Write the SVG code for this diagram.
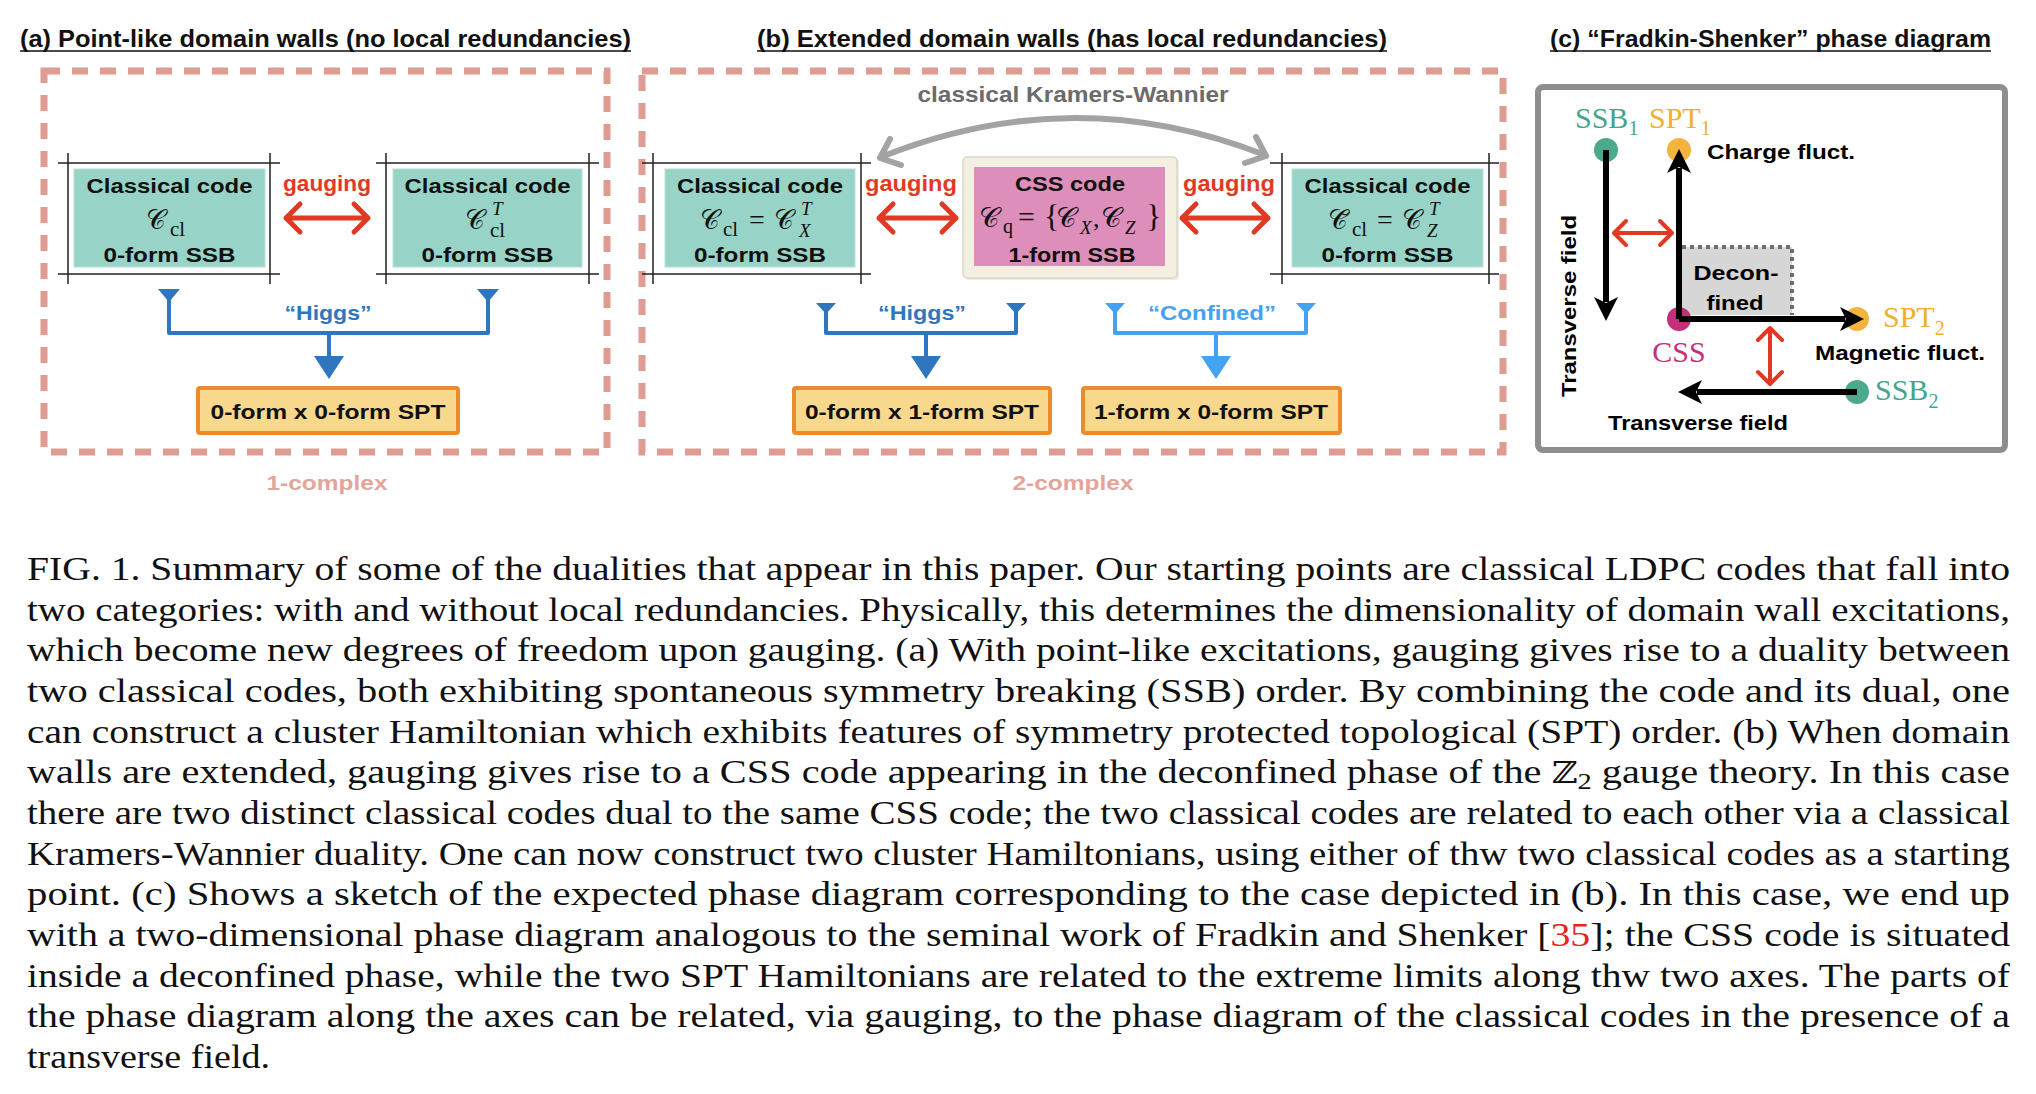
<svg xmlns="http://www.w3.org/2000/svg" width="2036" height="1094" viewBox="0 0 2036 1094">
<style>
.title{font-family:"Liberation Sans",Arial,sans-serif;font-weight:bold;font-size:24px;fill:#111}
.uline{stroke:#111;stroke-width:1.6}
.lbl{font-family:"Liberation Sans",Arial,sans-serif;font-weight:bold;font-size:21px;fill:#111;text-anchor:middle}
.math{font-family:"DejaVu Serif","Liberation Serif",serif;fill:#111}
.rom{font-family:"Liberation Serif","Times New Roman",serif;fill:#111}
.it{font-family:"Liberation Serif","Times New Roman",serif;font-style:italic;fill:#111}
.dash{fill:none;stroke:#DE9C92;stroke-width:7;stroke-dasharray:16 12}
.cplx{font-family:"Liberation Sans",Arial,sans-serif;font-weight:bold;font-size:21px;fill:#E3A49A;text-anchor:middle}
.sk{stroke:#222;stroke-width:1.5;fill:none}
.teal{fill:#97D4C7;stroke:#B9E2D8;stroke-width:1}
.spt{fill:#F8D88C;stroke:#EC8A2E;stroke-width:4}
.red{fill:none;stroke:#E03A25;stroke-width:5;stroke-linecap:round;stroke-linejoin:round}
.red2{fill:none;stroke:#E03A25;stroke-width:4;stroke-linecap:round;stroke-linejoin:round}
.gauge{font-family:"Liberation Sans",Arial,sans-serif;font-weight:bold;font-size:22px;fill:#E03A25;text-anchor:middle}
.b1{fill:none;stroke:#2F76BE;stroke-width:4;stroke-linejoin:round}
.b1f{fill:#2F76BE}
.b1t{font-family:"Liberation Sans",Arial,sans-serif;font-weight:bold;font-size:21px;fill:#2F76BE;text-anchor:middle}
.b2{fill:none;stroke:#43A2F2;stroke-width:4;stroke-linejoin:round}
.b2f{fill:#43A2F2}
.b2t{font-family:"Liberation Sans",Arial,sans-serif;font-weight:bold;font-size:21px;fill:#43A2F2;text-anchor:middle}
.gray{fill:none;stroke:#A3A3A3;stroke-width:6;stroke-linecap:round;stroke-linejoin:round}
.kw{font-family:"Liberation Sans",Arial,sans-serif;font-weight:bold;font-size:22px;fill:#6B6B6B;text-anchor:middle}
.blk{fill:none;stroke:#000;stroke-width:6}
.blkf{fill:#000}
.ct{font-family:"Liberation Sans",Arial,sans-serif;font-weight:bold;font-size:21px;fill:#000}
.ser{font-family:"Liberation Serif","Times New Roman",serif;font-size:30px}
.cap{font-family:"Liberation Serif","Times New Roman",serif;font-size:34px;fill:#111}
</style>

<rect x="0" y="0" width="2036" height="1094" fill="#fff"/>

<!-- Titles -->
<g id="title-a">
<text class="title" x="20" y="47" textLength="611" lengthAdjust="spacingAndGlyphs">(a) Point-like domain walls (no local redundancies)</text>
<line class="uline" x1="20" y1="51" x2="631" y2="51"/>
</g>
<g id="title-b">
<text class="title" x="757" y="47" textLength="630" lengthAdjust="spacingAndGlyphs">(b) Extended domain walls (has local redundancies)</text>
<line class="uline" x1="757" y1="51" x2="1387" y2="51"/>
</g>
<g id="title-c">
<text class="title" x="1550" y="47" textLength="441" lengthAdjust="spacingAndGlyphs">(c) “Fradkin-Shenker” phase diagram</text>
<line class="uline" x1="1550" y1="51" x2="1991" y2="51"/>
</g>

<!-- Panel (a) -->
<g id="complex-a">
<rect class="dash" x="44" y="71" width="563" height="381"/>
<text class="cplx" x="327" y="490" textLength="121" lengthAdjust="spacingAndGlyphs">1-complex</text>
</g>

<g id="a-code1">
<path class="sk" d="M58 163 H280 M58 274 H280 M68 153 V284 M270 153 V284"/>
<rect class="teal" x="74" y="169" width="191" height="98"/>
<text class="lbl" x="169.5" y="193" textLength="166" lengthAdjust="spacingAndGlyphs">Classical code</text>
<text class="math" x="146" y="229" font-size="27">𝒞</text>
<text class="rom" x="170" y="236" font-size="21">cl</text>
<text class="lbl" x="169.5" y="262" textLength="132" lengthAdjust="spacingAndGlyphs">0-form SSB</text>
</g>

<g id="a-code2">
<path class="sk" d="M376 163 H599 M376 274 H599 M386 153 V284 M589 153 V284"/>
<rect class="teal" x="393" y="169" width="189" height="98"/>
<text class="lbl" x="487.5" y="193" textLength="166" lengthAdjust="spacingAndGlyphs">Classical code</text>
<text class="math" x="465" y="229" font-size="27">𝒞</text>
<text class="it" x="492" y="215" font-size="19">T</text>
<text class="rom" x="490" y="237" font-size="21">cl</text>
<text class="lbl" x="487.5" y="262" textLength="132" lengthAdjust="spacingAndGlyphs">0-form SSB</text>
</g>

<g id="a-spt">
<rect class="spt" x="198" y="388" width="260" height="45" rx="2"/>
<text class="lbl" x="328" y="419" textLength="235" lengthAdjust="spacingAndGlyphs">0-form x 0-form SPT</text>
</g>

<!-- Panel (b) -->
<g id="complex-b">
<rect class="dash" x="642" y="71" width="861" height="381"/>
<text class="cplx" x="1073" y="490" textLength="121" lengthAdjust="spacingAndGlyphs">2-complex</text>
</g>

<g id="b-code1">
<path class="sk" d="M642 163 H871 M642 274 H871 M653 153 V284 M861 153 V284"/>
<rect class="teal" x="665" y="169" width="190" height="98"/>
<text class="lbl" x="760" y="193" textLength="166" lengthAdjust="spacingAndGlyphs">Classical code</text>
<text class="math" x="700" y="229" font-size="27">𝒞</text>
<text class="rom" x="723" y="236" font-size="21">cl</text>
<text class="rom" x="749" y="229" font-size="28">=</text>
<text class="math" x="774" y="229" font-size="27">𝒞</text>
<text class="it" x="801" y="215" font-size="19">T</text>
<text class="it" x="799" y="237" font-size="19">X</text>
<text class="lbl" x="760" y="262" textLength="132" lengthAdjust="spacingAndGlyphs">0-form SSB</text>
</g>

<g id="b-css">
<rect x="965" y="159" width="214" height="121" rx="4" fill="#E2DED0" opacity="0.6"/>
<rect x="963" y="157" width="214" height="121" rx="4" fill="#F4F0E1" stroke="#DCD7C6" stroke-width="1.5"/>
<rect x="974" y="167" width="191" height="99" fill="#DD8EBA"/>
<text class="lbl" x="1070" y="191" textLength="110" lengthAdjust="spacingAndGlyphs">CSS code</text>
<text class="math" x="979" y="227" font-size="28">𝒞</text>
<text class="rom" x="1003" y="233" font-size="20">q</text>
<text class="rom" x="1018" y="227" font-size="30">=</text>
<text class="rom" x="1044" y="227" font-size="32">{</text>
<text class="math" x="1056" y="227" font-size="28">𝒞</text>
<text class="it" x="1080" y="234" font-size="19">X</text>
<text class="rom" x="1093" y="227" font-size="26">,</text>
<text class="math" x="1101" y="227" font-size="28">𝒞</text>
<text class="it" x="1125" y="234" font-size="19">Z</text>
<text class="rom" x="1146" y="227" font-size="32">}</text>
<text class="lbl" x="1072" y="262" textLength="127" lengthAdjust="spacingAndGlyphs">1-form SSB</text>
</g>

<g id="b-code2">
<path class="sk" d="M1270 163 H1499 M1270 274 H1499 M1282 153 V284 M1489 153 V284"/>
<rect class="teal" x="1292" y="169" width="191" height="98"/>
<text class="lbl" x="1387.5" y="193" textLength="166" lengthAdjust="spacingAndGlyphs">Classical code</text>
<text class="math" x="1328" y="229" font-size="27">𝒞&#x303;</text>
<text class="rom" x="1352" y="236" font-size="21">cl</text>
<text class="rom" x="1377" y="229" font-size="28">=</text>
<text class="math" x="1402" y="229" font-size="27">𝒞</text>
<text class="it" x="1429" y="215" font-size="19">T</text>
<text class="it" x="1427" y="237" font-size="19">Z</text>
<text class="lbl" x="1387.5" y="262" textLength="132" lengthAdjust="spacingAndGlyphs">0-form SSB</text>
</g>

<g id="b-spt1">
<rect class="spt" x="794" y="388" width="256" height="45" rx="2"/>
<text class="lbl" x="922" y="419" textLength="234" lengthAdjust="spacingAndGlyphs">0-form x 1-form SPT</text>
</g>
<g id="b-spt2">
<rect class="spt" x="1083" y="388" width="257" height="45" rx="2"/>
<text class="lbl" x="1211" y="419" textLength="234" lengthAdjust="spacingAndGlyphs">1-form x 0-form SPT</text>
</g>

<!-- Panel (c) -->
<g id="c-frame">
<rect x="1538" y="87" width="467" height="363" rx="5" fill="#fff" stroke="#8E8E8E" stroke-width="6"/>
</g>
<g id="c-deconfined">
<rect x="1682" y="247" width="110" height="68" fill="#D6D6D6"/>
<path d="M1682 247 H1792 V315" fill="none" stroke="#6E6E6E" stroke-width="4" stroke-dasharray="4 4"/>
<text class="ct" x="1736" y="280" text-anchor="middle" textLength="85" lengthAdjust="spacingAndGlyphs">Decon-</text>
<text class="ct" x="1735" y="310" text-anchor="middle" textLength="57" lengthAdjust="spacingAndGlyphs">fined</text>
</g>
<g id="c-ssb1">
<circle cx="1606" cy="150" r="12" fill="#4DA98E"/>
<text class="ser" x="1575" y="128" fill="#45A58C">SSB<tspan font-size="20" dy="7">1</tspan></text>
</g>
<g id="c-spt1">
<circle cx="1679" cy="150" r="12" fill="#F2B43E"/>
<text class="ser" x="1649" y="128" fill="#F0B030">SPT<tspan font-size="20" dy="7">1</tspan></text>
<text class="ct" x="1707" y="159" textLength="148" lengthAdjust="spacingAndGlyphs">Charge fluct.</text>
</g>
<g id="c-css">
<circle cx="1679" cy="319" r="12" fill="#C62F78"/>
<text class="ser" x="1679" y="362" fill="#C62F78" text-anchor="middle">CSS</text>
</g>
<g id="c-spt2">
<circle cx="1857" cy="319" r="12" fill="#F2B43E"/>
<text class="ser" x="1883" y="327" fill="#F0B030">SPT<tspan font-size="20" dy="8">2</tspan></text>
<text class="ct" x="1815" y="360" textLength="170" lengthAdjust="spacingAndGlyphs">Magnetic fluct.</text>
</g>
<g id="c-ssb2">
<circle cx="1857" cy="392" r="12" fill="#4DA98E"/>
<text class="ser" x="1875" y="400" fill="#45A58C">SSB<tspan font-size="20" dy="8">2</tspan></text>
</g>
<g id="c-axes-labels">
<text class="ct" x="1608" y="430" textLength="180" lengthAdjust="spacingAndGlyphs">Transverse field</text>
<text class="ct" transform="translate(1576 306) rotate(-90)" x="0" y="0" text-anchor="middle" textLength="182" lengthAdjust="spacingAndGlyphs">Transverse field</text>
</g>

<!-- Connectors -->
<g id="connectors">
<text class="gauge" x="327" y="191" textLength="88" lengthAdjust="spacingAndGlyphs">gauging</text>
<path class="red" d="M286 218 H368 M300 204 L286 218 L300 232 M354 204 L368 218 L354 232"/>
<text class="gauge" x="911" y="191" textLength="92" lengthAdjust="spacingAndGlyphs">gauging</text>
<path class="red" d="M879 218 H956 M893 204 L879 218 L893 232 M942 204 L956 218 L942 232"/>
<text class="gauge" x="1229" y="191" textLength="92" lengthAdjust="spacingAndGlyphs">gauging</text>
<path class="red" d="M1182 218 H1268 M1196 204 L1182 218 L1196 232 M1254 204 L1268 218 L1254 232"/>

<text class="kw" x="1073" y="102" textLength="311" lengthAdjust="spacingAndGlyphs">classical Kramers-Wannier</text>
<path class="gray" d="M881 157 Q1073 80 1265 155"/>
<path class="gray" d="M890 139 L880 158 L901 165 M1256 137 L1266 156 L1245 163"/>

<path class="b1" d="M169 292 V333 H488 V292 M329 333 V360"/>
<path class="b1f" d="M158 289 H180 L169 302 Z M477 289 H499 L488 302 Z M314 356 H344 L329 379 Z"/>
<text class="b1t" x="328" y="320" textLength="87" lengthAdjust="spacingAndGlyphs">“Higgs”</text>

<path class="b1" d="M826 306 V333 H1016 V306 M926 333 V360"/>
<path class="b1f" d="M816 303 H836 L826 314 Z M1006 303 H1026 L1016 314 Z M911 356 H941 L926 379 Z"/>
<text class="b1t" x="922" y="320" textLength="88" lengthAdjust="spacingAndGlyphs">“Higgs”</text>

<path class="b2" d="M1115 306 V333 H1306 V306 M1216 333 V360"/>
<path class="b2f" d="M1105 303 H1125 L1115 314 Z M1296 303 H1316 L1306 314 Z M1201 356 H1231 L1216 379 Z"/>
<text class="b2t" x="1212" y="320" textLength="128" lengthAdjust="spacingAndGlyphs">“Confined”</text>

<path class="blk" d="M1606 150 V302"/>
<path class="blkf" d="M1606 321 L1594 297 L1606 303 L1618 297 Z"/>
<path class="blk" d="M1679 319 V168"/>
<path class="blkf" d="M1679 149 L1691 173 L1679 167 L1667 173 Z"/>
<path class="blk" d="M1679 319 H1845"/>
<path class="blkf" d="M1864 319 L1840 307 L1846 319 L1840 331 Z"/>
<path class="blk" d="M1857 392 H1697"/>
<path class="blkf" d="M1678 392 L1702 380 L1696 392 L1702 404 Z"/>
<path class="red2" d="M1614 233 H1672 M1626 221 L1614 233 L1626 245 M1660 221 L1672 233 L1660 245"/>
<path class="red2" d="M1770 328 V384 M1758 340 L1770 328 L1782 340 M1758 372 L1770 384 L1782 372"/>
</g>

<!-- Caption -->
<g id="caption">
<text class="cap" x="27" y="580" textLength="1983" lengthAdjust="spacingAndGlyphs">FIG. 1. Summary of some of the dualities that appear in this paper. Our starting points are classical LDPC codes that fall into</text>
<text class="cap" x="27" y="620.7" textLength="1983" lengthAdjust="spacingAndGlyphs">two categories: with and without local redundancies. Physically, this determines the dimensionality of domain wall excitations,</text>
<text class="cap" x="27" y="661.3" textLength="1983" lengthAdjust="spacingAndGlyphs">which become new degrees of freedom upon gauging. (a) With point-like excitations, gauging gives rise to a duality between</text>
<text class="cap" x="27" y="702" textLength="1983" lengthAdjust="spacingAndGlyphs">two classical codes, both exhibiting spontaneous symmetry breaking (SSB) order. By combining the code and its dual, one</text>
<text class="cap" x="27" y="742.7" textLength="1983" lengthAdjust="spacingAndGlyphs">can construct a cluster Hamiltonian which exhibits features of symmetry protected topological (SPT) order. (b) When domain</text>
<text class="cap" x="27" y="783.3" textLength="1983" lengthAdjust="spacingAndGlyphs">walls are extended, gauging gives rise to a CSS code appearing in the deconfined phase of the <tspan font-family="DejaVu Serif, serif" font-size="30">ℤ</tspan><tspan font-size="24" dy="6">2</tspan><tspan dy="-6"> gauge theory. In this case</tspan></text>
<text class="cap" x="27" y="824" textLength="1983" lengthAdjust="spacingAndGlyphs">there are two distinct classical codes dual to the same CSS code; the two classical codes are related to each other via a classical</text>
<text class="cap" x="27" y="864.7" textLength="1983" lengthAdjust="spacingAndGlyphs">Kramers-Wannier duality. One can now construct two cluster Hamiltonians, using either of thw two classical codes as a starting</text>
<text class="cap" x="27" y="905.3" textLength="1983" lengthAdjust="spacingAndGlyphs">point. (c) Shows a sketch of the expected phase diagram corresponding to the case depicted in (b). In this case, we end up</text>
<text class="cap" x="27" y="946" textLength="1983" lengthAdjust="spacingAndGlyphs">with a two-dimensional phase diagram analogous to the seminal work of Fradkin and Shenker [<tspan fill="#E8231B">35</tspan>]; the CSS code is situated</text>
<text class="cap" x="27" y="986.7" textLength="1983" lengthAdjust="spacingAndGlyphs">inside a deconfined phase, while the two SPT Hamiltonians are related to the extreme limits along thw two axes. The parts of</text>
<text class="cap" x="27" y="1027.3" textLength="1983" lengthAdjust="spacingAndGlyphs">the phase diagram along the axes can be related, via gauging, to the phase diagram of the classical codes in the presence of a</text>
<text class="cap" x="27" y="1068" textLength="243" lengthAdjust="spacingAndGlyphs">transverse field.</text>
</g>
</svg>
